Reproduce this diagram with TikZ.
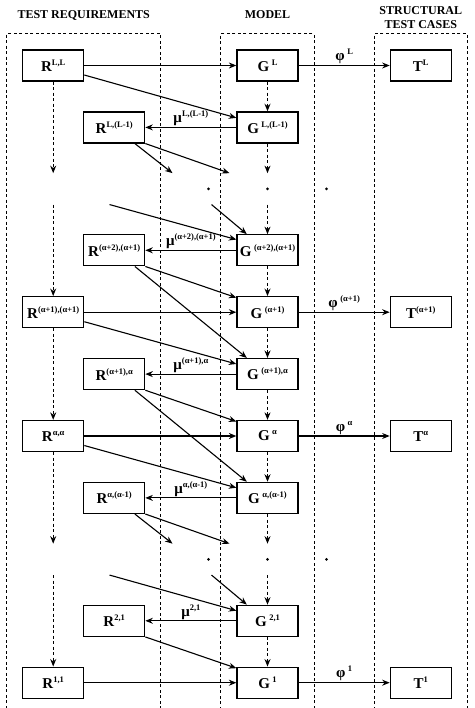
\documentclass[tikz,border=0pt]{standalone}
\usepackage{fontspec}
\setmainfont{Liberation Serif}
\usepackage{tikz}
\usetikzlibrary{calc,positioning,arrows.meta,fit,backgrounds}

\newcommand\tsup[1]{\raisebox{6pt}{\fontsize{8.5}{8.5}\selectfont #1}}

\tikzset{
  blk/.style={draw, line width=1.3pt, minimum width=61pt, minimum height=31pt, inner sep=0pt, font=\fontsize{15}{18}\selectfont\bfseries},
  ghost/.style={minimum width=61pt, minimum height=31pt, inner sep=0pt},
  lane/.style={draw, line width=0.9pt, dash pattern=on 3pt off 2.5pt, inner xsep=15.5pt, inner ysep=15.5pt},
  flow/.style={-{Stealth[length=7.5pt,width=6pt]}, line width=1.1pt},
  dflow/.style={flow, dash pattern=on 3pt off 2.5pt},
  bullet/.style={circle, fill, inner sep=0pt, minimum size=3pt},
  lbl/.style={above, inner sep=1pt, font=\fontsize{15}{18}\selectfont\bfseries},
  head/.style={font=\fontsize{12}{14.3}\selectfont\bfseries, inner sep=0pt}
}

\begin{document}
\begin{tikzpicture}[align=center]
    \useasboundingbox (0,0) rectangle (474pt,-708pt);

    % model column
    \node [blk] (gL) at (267.5pt,-65.5pt) {G\,\tsup{L}};
    \node [blk, below=29.6pt of gL] (gLm) {G\,\tsup{L,(L-1)}};
    \node [ghost, below=29.6pt of gLm] (gap1) {};
    \node [blk, below=29.6pt of gap1] (gA2) {G\,\tsup{(α+2),(α+1)}};
    \node [blk, below=29.6pt of gA2] (gA1) {G\,\tsup{(α+1)}};
    \node [blk, below=29.6pt of gA1] (gA1A) {G\,\tsup{(α+1),α}};
    \node [blk, below=29.6pt of gA1A] (gA) {G\,\tsup{α}};
    \node [blk, below=29.6pt of gA] (gAm) {G\,\tsup{α,(α-1)}};
    \node [ghost, below=29.6pt of gAm] (gap2) {};
    \node [blk, below=29.6pt of gap2] (g21) {G\,\tsup{2,1}};
    \node [blk, below=29.6pt of g21] (g1) {G\,\tsup{1}};

    % test requirements
    \node [blk, left=152pt of gL] (rLL) {R\tsup{L,L}};
    \node [blk, left=91pt of gLm] (rLm) {R\tsup{L,(L-1)}};
    \node [blk, left=91pt of gA2] (rA2) {R\tsup{(α+2),(α+1)}};
    \node [blk, left=152pt of gA1] (rA1) {R\tsup{(α+1),(α+1)}};
    \node [blk, left=91pt of gA1A] (rA1A) {R\tsup{(α+1),α}};
    \node [blk, left=152pt of gA] (rAA) {R\tsup{α,α}};
    \node [blk, left=91pt of gAm] (rAm) {R\tsup{α,(α-1)}};
    \node [blk, left=91pt of g21] (r21) {R\tsup{2,1}};
    \node [blk, left=152pt of g1] (r11) {R\tsup{1,1}};

    % structural test cases
    \node [blk, right=91pt of gL] (tL) {T\tsup{L}};
    \node [blk, right=91pt of gA1] (tA1) {T\tsup{(α+1)}};
    \node [blk, right=91pt of gA] (tA) {T\tsup{α}};
    \node [blk, right=91pt of g1] (t1) {T\tsup{1}};

    % dots and cut ends
    \foreach \g in {gap1, gap2} {
        \node [bullet] (\g m) at (\g) {};
        \node [bullet] (\g l) at ($(\g)+(-59pt,0)$) {};
        \node [bullet] (\g r) at ($(\g)+(59pt,0)$) {};
        \coordinate (\g cut) at (rLL |- \g.north);
        \coordinate (\g tipa) at ($(\g.north)+(-95pt,0)$);
        \coordinate (\g tipb) at ($(\g.north)+(-38pt,0)$);
        \coordinate (\g from) at (rLL |- \g.south);
        \coordinate (\g froma) at ($(\g.south)+(-158pt,0)$);
        \coordinate (\g fromb) at ($(\g.south)+(-56pt,0)$);
    }

    \draw[flow] (rLL) -- (gL);
    \draw[flow] (gL) -- node[lbl] {φ\,\tsup{L}} (tL);
    \draw[flow] (rLL.-17) -- (gLm.163);
    \draw[dflow] (gL) -- (gLm);
    \draw[dflow] (rLL) -- (gap1cut);
    \draw[flow] (gLm) -- node[lbl] {μ\tsup{L,(L-1)}} (rLm);
    \draw[flow] (rLm.-38) -- (gap1tipa);
    \draw[flow] (rLm.south east) -- (gap1tipb);
    \draw[dflow] (gLm) -- (gap1);

    \draw[dflow] (gap1) -- (gA2);
    \draw[dflow] (gap1from) -- (rA1);
    \draw[flow] (gap1froma) -- (gA2.161);
    \draw[flow] (gap1fromb) -- (gA2.142);
    \draw[flow] (gA2) -- node[lbl] {μ\tsup{(α+2),(α+1)}} (rA2);
    \draw[flow] (rA2.south east) -- (gA1.155);
    \draw[flow] (rA2.-38) -- (gA1A.142);
    \draw[dflow] (gA2) -- (gA1);
    \draw[flow] (rA1) -- (gA1);
    \draw[flow] (gA1) -- node[lbl] {φ\,\tsup{(α+1)}} (tA1);
    \draw[flow] (rA1.-17) -- (gA1A.162);
    \draw[dflow] (rA1) -- (rAA);
    \draw[dflow] (gA1) -- (gA1A);
    \draw[flow] (gA1A) -- node[lbl] {μ\tsup{(α+1),α}} (rA1A);
    \draw[flow] (rA1A.south east) -- (gA.155);
    \draw[flow] (rA1A.-38) -- (gAm.142);
    \draw[dflow] (gA1A) -- (gA);
    \draw[flow] (rAA) -- (gA);
    \draw[flow] (gA) -- node[lbl] {φ\,\tsup{α}} (tA);
    \draw[flow] (rAA.-17) -- (gAm.162);
    \draw[dflow] (gA) -- (gAm);
    \draw[dflow] (rAA) -- (gap2cut);
    \draw[flow] (gAm) -- node[lbl] {μ\tsup{α,(α-1)}} (rAm);
    \draw[flow] (rAm.-38) -- (gap2tipa);
    \draw[flow] (rAm.south east) -- (gap2tipb);
    \draw[dflow] (gAm) -- (gap2);

    \draw[dflow] (gap2) -- (g21);
    \draw[dflow] (gap2from) -- (r11);
    \draw[flow] (gap2froma) -- (g21.162);
    \draw[flow] (gap2fromb) -- (g21.142);
    \draw[flow] (g21) -- node[lbl] {μ\tsup{2,1}} (r21);
    \draw[flow] (r21.south east) -- (g1.155);
    \draw[dflow] (g21) -- (g1);
    \draw[flow] (r11) -- (g1);
    \draw[flow] (g1) -- node[lbl] {φ\,\tsup{1}} (t1);

    \begin{scope}[on background layer]
        \node [lane, fit=(rLL) (rLm) (r11)] (reqlane) {};
        \node [lane, fit=(gL) (g1)] (modlane) {};
        \node [lane, fit=(tL) (t1)] (caselane) {};
    \end{scope}

    \node [head, anchor=base] (reqhead) at ($(reqlane.north)+(0,14.5pt)$) {TEST REQUIREMENTS};
    \node [head, anchor=base] (modhead) at ($(modlane.north)+(0,14.5pt)$) {MODEL};
    \node [head, anchor=base] (casehead) at ($(caselane.north)+(0,4.7pt)$) {STRUCTURAL\\TEST CASES};

\end{tikzpicture}
\end{document}
